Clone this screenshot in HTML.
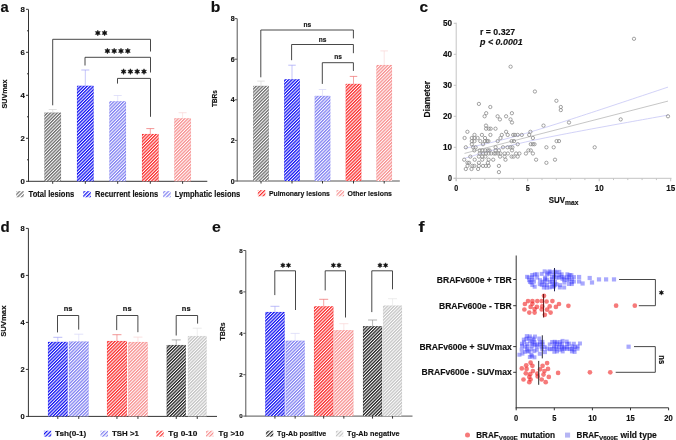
<!DOCTYPE html>
<html><head><meta charset="utf-8"><style>
html,body{margin:0;padding:0;background:#fff;overflow:hidden;width:676px;height:440px;}
svg{display:block;will-change:transform;}
</style></head><body>
<svg width="676" height="440" viewBox="0 0 676 440" font-family="Liberation Sans, sans-serif">
<defs>
<pattern id="hl_gray" patternUnits="userSpaceOnUse" width="2.7" height="10" patternTransform="rotate(45)"><rect x="0" y="0" width="2.7" height="10" fill="#fff"/><rect x="0" y="0" width="1.25" height="10" fill="#6e6e6e"/></pattern>
<pattern id="h_gray" patternUnits="userSpaceOnUse" width="2.3" height="10" patternTransform="rotate(45)"><rect x="0" y="0" width="2.3" height="10" fill="#fff"/><rect x="0" y="0" width="1.3" height="10" fill="#6e6e6e"/></pattern>
<pattern id="hl_blue" patternUnits="userSpaceOnUse" width="2.7" height="10" patternTransform="rotate(45)"><rect x="0" y="0" width="2.7" height="10" fill="#fff"/><rect x="0" y="0" width="1.25" height="10" fill="#1010f2"/></pattern>
<pattern id="h_blue" patternUnits="userSpaceOnUse" width="2.3" height="10" patternTransform="rotate(45)"><rect x="0" y="0" width="2.3" height="10" fill="#fff"/><rect x="0" y="0" width="1.3" height="10" fill="#1010f2"/></pattern>
<pattern id="hl_lav" patternUnits="userSpaceOnUse" width="2.7" height="10" patternTransform="rotate(45)"><rect x="0" y="0" width="2.7" height="10" fill="#fff"/><rect x="0" y="0" width="1.25" height="10" fill="#8080f2"/></pattern>
<pattern id="h_lav" patternUnits="userSpaceOnUse" width="2.3" height="10" patternTransform="rotate(45)"><rect x="0" y="0" width="2.3" height="10" fill="#fff"/><rect x="0" y="0" width="1.3" height="10" fill="#8080f2"/></pattern>
<pattern id="hl_red" patternUnits="userSpaceOnUse" width="2.7" height="10" patternTransform="rotate(45)"><rect x="0" y="0" width="2.7" height="10" fill="#fff"/><rect x="0" y="0" width="1.25" height="10" fill="#fa2c2c"/></pattern>
<pattern id="h_red" patternUnits="userSpaceOnUse" width="2.3" height="10" patternTransform="rotate(45)"><rect x="0" y="0" width="2.3" height="10" fill="#fff"/><rect x="0" y="0" width="1.3" height="10" fill="#fa2c2c"/></pattern>
<pattern id="hl_pink" patternUnits="userSpaceOnUse" width="2.7" height="10" patternTransform="rotate(45)"><rect x="0" y="0" width="2.7" height="10" fill="#fff"/><rect x="0" y="0" width="1.25" height="10" fill="#f79090"/></pattern>
<pattern id="h_pink" patternUnits="userSpaceOnUse" width="2.3" height="10" patternTransform="rotate(45)"><rect x="0" y="0" width="2.3" height="10" fill="#fff"/><rect x="0" y="0" width="1.3" height="10" fill="#f79090"/></pattern>
<pattern id="hl_dark" patternUnits="userSpaceOnUse" width="2.7" height="10" patternTransform="rotate(45)"><rect x="0" y="0" width="2.7" height="10" fill="#fff"/><rect x="0" y="0" width="1.25" height="10" fill="#222222"/></pattern>
<pattern id="h_dark" patternUnits="userSpaceOnUse" width="2.3" height="10" patternTransform="rotate(45)"><rect x="0" y="0" width="2.3" height="10" fill="#fff"/><rect x="0" y="0" width="1.3" height="10" fill="#222222"/></pattern>
<pattern id="hl_lgray" patternUnits="userSpaceOnUse" width="2.7" height="10" patternTransform="rotate(45)"><rect x="0" y="0" width="2.7" height="10" fill="#fff"/><rect x="0" y="0" width="1.25" height="10" fill="#c4c4c4"/></pattern>
<pattern id="h_lgray" patternUnits="userSpaceOnUse" width="2.3" height="10" patternTransform="rotate(45)"><rect x="0" y="0" width="2.3" height="10" fill="#fff"/><rect x="0" y="0" width="1.3" height="10" fill="#c4c4c4"/></pattern>
</defs>
<rect width="676" height="440" fill="#fff"/>
<text x="0.5" y="11.8" font-size="15" font-weight="bold" font-style="normal" text-anchor="start" fill="#111" stroke="#111" stroke-width="0.15" textLength="8.2" lengthAdjust="spacingAndGlyphs" >a</text>
<text x="210.8" y="11.8" font-size="15" font-weight="bold" font-style="normal" text-anchor="start" fill="#111" stroke="#111" stroke-width="0.15" textLength="9.6" lengthAdjust="spacingAndGlyphs" >b</text>
<text x="419.6" y="11.8" font-size="15" font-weight="bold" font-style="normal" text-anchor="start" fill="#111" stroke="#111" stroke-width="0.15" textLength="8.6" lengthAdjust="spacingAndGlyphs" >c</text>
<text x="0.5" y="232" font-size="15" font-weight="bold" font-style="normal" text-anchor="start" fill="#111" stroke="#111" stroke-width="0.15" textLength="9.2" lengthAdjust="spacingAndGlyphs" >d</text>
<text x="212" y="232" font-size="15" font-weight="bold" font-style="normal" text-anchor="start" fill="#111" stroke="#111" stroke-width="0.15" textLength="8.8" lengthAdjust="spacingAndGlyphs" >e</text>
<text x="418.6" y="231.5" font-size="15" font-weight="bold" font-style="normal" text-anchor="start" fill="#111" stroke="#111" stroke-width="0.15" textLength="6" lengthAdjust="spacingAndGlyphs" >f</text>
<line x1="28.5" y1="9.5" x2="28.5" y2="181.8" stroke="#333" stroke-width="1"/>
<line x1="26" y1="181.3" x2="28.5" y2="181.3" stroke="#333" stroke-width="1"/>
<text x="24.8" y="184.11" font-size="7.8" font-weight="bold" font-style="normal" text-anchor="end" fill="#111" stroke="#111" stroke-width="0.15" >0</text>
<line x1="26" y1="138.3" x2="28.5" y2="138.3" stroke="#333" stroke-width="1"/>
<text x="24.8" y="141.11" font-size="7.8" font-weight="bold" font-style="normal" text-anchor="end" fill="#111" stroke="#111" stroke-width="0.15" >2</text>
<line x1="26" y1="95.3" x2="28.5" y2="95.3" stroke="#333" stroke-width="1"/>
<text x="24.8" y="98.11" font-size="7.8" font-weight="bold" font-style="normal" text-anchor="end" fill="#111" stroke="#111" stroke-width="0.15" >4</text>
<line x1="26" y1="52.3" x2="28.5" y2="52.3" stroke="#333" stroke-width="1"/>
<text x="24.8" y="55.11" font-size="7.8" font-weight="bold" font-style="normal" text-anchor="end" fill="#111" stroke="#111" stroke-width="0.15" >6</text>
<line x1="26" y1="9.3" x2="28.5" y2="9.3" stroke="#333" stroke-width="1"/>
<text x="24.8" y="12.11" font-size="7.8" font-weight="bold" font-style="normal" text-anchor="end" fill="#111" stroke="#111" stroke-width="0.15" >8</text>
<line x1="27" y1="159.8" x2="28.5" y2="159.8" stroke="#333" stroke-width="1"/>
<line x1="27" y1="116.8" x2="28.5" y2="116.8" stroke="#333" stroke-width="1"/>
<line x1="27" y1="73.8" x2="28.5" y2="73.8" stroke="#333" stroke-width="1"/>
<line x1="27" y1="30.8" x2="28.5" y2="30.8" stroke="#333" stroke-width="1"/>
<line x1="28" y1="181.3" x2="207.3" y2="181.3" stroke="#333" stroke-width="1"/>
<line x1="52.7" y1="112.6" x2="52.7" y2="109.5" stroke="#d4d4d4" stroke-width="0.6"/>
<line x1="48.7" y1="109.5" x2="56.7" y2="109.5" stroke="#d4d4d4" stroke-width="0.7"/>
<rect x="44.4" y="112.6" width="16.6" height="68.7" fill="url(#h_gray)"/>
<path d="M44.7,181.3V112.9H60.7V181.3" stroke="#6e6e6e" stroke-width="0.5" stroke-opacity="0.45" fill="none"/>
<line x1="52.7" y1="181.3" x2="52.7" y2="183.8" stroke="#333" stroke-width="1"/>
<line x1="85.3" y1="85.8" x2="85.3" y2="70" stroke="#a0a0f6" stroke-width="0.6"/>
<line x1="81.3" y1="70" x2="89.3" y2="70" stroke="#a0a0f6" stroke-width="0.7"/>
<rect x="77" y="85.8" width="16.6" height="95.5" fill="url(#h_blue)"/>
<path d="M77.3,181.3V86.1H93.3V181.3" stroke="#1010f2" stroke-width="0.5" stroke-opacity="0.45" fill="none"/>
<line x1="85.3" y1="181.3" x2="85.3" y2="183.8" stroke="#333" stroke-width="1"/>
<line x1="117.7" y1="101.3" x2="117.7" y2="95.5" stroke="#d6d6f8" stroke-width="0.6"/>
<line x1="113.7" y1="95.5" x2="121.7" y2="95.5" stroke="#d6d6f8" stroke-width="0.7"/>
<rect x="109.4" y="101.3" width="16.6" height="80" fill="url(#h_lav)"/>
<path d="M109.7,181.3V101.6H125.7V181.3" stroke="#8080f2" stroke-width="0.5" stroke-opacity="0.45" fill="none"/>
<line x1="117.7" y1="181.3" x2="117.7" y2="183.8" stroke="#333" stroke-width="1"/>
<line x1="150.3" y1="134" x2="150.3" y2="128.6" stroke="#ee6a6a" stroke-width="0.6"/>
<line x1="146.3" y1="128.6" x2="154.3" y2="128.6" stroke="#ee6a6a" stroke-width="0.7"/>
<rect x="142" y="134" width="16.6" height="47.3" fill="url(#h_red)"/>
<path d="M142.3,181.3V134.3H158.3V181.3" stroke="#fa2c2c" stroke-width="0.5" stroke-opacity="0.45" fill="none"/>
<line x1="150.3" y1="181.3" x2="150.3" y2="183.8" stroke="#333" stroke-width="1"/>
<line x1="182.6" y1="118.3" x2="182.6" y2="112.7" stroke="#f9d4d4" stroke-width="0.6"/>
<line x1="178.6" y1="112.7" x2="186.6" y2="112.7" stroke="#f9d4d4" stroke-width="0.7"/>
<rect x="174.3" y="118.3" width="16.6" height="63" fill="url(#h_pink)"/>
<path d="M174.6,181.3V118.6H190.6V181.3" stroke="#f79090" stroke-width="0.5" stroke-opacity="0.45" fill="none"/>
<line x1="182.6" y1="181.3" x2="182.6" y2="183.8" stroke="#333" stroke-width="1"/>
<path d="M52.7,105.3 V39.3 H150.5 V51.5" stroke="#333" stroke-width="0.9" fill="none"/>
<path d="M85,65.5 V57.3 H150.5 V72.5" stroke="#333" stroke-width="0.9" fill="none"/>
<path d="M117.5,83.6 V78.4 H150.5 V116.8" stroke="#333" stroke-width="0.9" fill="none"/>
<polygon points="97.8,30.19 98.52,31.76 100.23,31.6 99.23,33 100.23,34.4 98.52,34.24 97.8,35.81 97.08,34.24 95.37,34.4 96.37,33 95.37,31.6 97.08,31.76" fill="#111" stroke="#111" stroke-width="0.52" stroke-linejoin="round"/>
<polygon points="104.6,30.19 105.31,31.76 107.03,31.6 106.03,33 107.03,34.4 105.31,34.24 104.6,35.81 103.88,34.24 102.17,34.4 103.17,33 102.17,31.6 103.88,31.76" fill="#111" stroke="#111" stroke-width="0.52" stroke-linejoin="round"/>
<polygon points="107.4,48.19 108.11,49.76 109.83,49.6 108.83,51 109.83,52.4 108.11,52.24 107.4,53.81 106.68,52.24 104.97,52.4 105.97,51 104.97,49.6 106.68,49.76" fill="#111" stroke="#111" stroke-width="0.52" stroke-linejoin="round"/>
<polygon points="114.2,48.19 114.91,49.76 116.63,49.6 115.63,51 116.63,52.4 114.91,52.24 114.2,53.81 113.48,52.24 111.77,52.4 112.77,51 111.77,49.6 113.48,49.76" fill="#111" stroke="#111" stroke-width="0.52" stroke-linejoin="round"/>
<polygon points="121,48.19 121.71,49.76 123.43,49.6 122.43,51 123.43,52.4 121.71,52.24 121,53.81 120.28,52.24 118.57,52.4 119.57,51 118.57,49.6 120.28,49.76" fill="#111" stroke="#111" stroke-width="0.52" stroke-linejoin="round"/>
<polygon points="127.8,48.19 128.51,49.76 130.23,49.6 129.23,51 130.23,52.4 128.51,52.24 127.8,53.81 127.08,52.24 125.37,52.4 126.37,51 125.37,49.6 127.08,49.76" fill="#111" stroke="#111" stroke-width="0.52" stroke-linejoin="round"/>
<polygon points="123.6,68.79 124.32,70.36 126.03,70.2 125.03,71.6 126.03,73 124.32,72.84 123.6,74.41 122.89,72.84 121.17,73 122.17,71.6 121.17,70.2 122.89,70.36" fill="#111" stroke="#111" stroke-width="0.52" stroke-linejoin="round"/>
<polygon points="130.4,68.79 131.12,70.36 132.83,70.2 131.83,71.6 132.83,73 131.12,72.84 130.4,74.41 129.69,72.84 127.97,73 128.97,71.6 127.97,70.2 129.69,70.36" fill="#111" stroke="#111" stroke-width="0.52" stroke-linejoin="round"/>
<polygon points="137.2,68.79 137.92,70.36 139.63,70.2 138.63,71.6 139.63,73 137.92,72.84 137.2,74.41 136.49,72.84 134.77,73 135.77,71.6 134.77,70.2 136.49,70.36" fill="#111" stroke="#111" stroke-width="0.52" stroke-linejoin="round"/>
<polygon points="144,68.79 144.72,70.36 146.43,70.2 145.43,71.6 146.43,73 144.72,72.84 144,74.41 143.28,72.84 141.57,73 142.57,71.6 141.57,70.2 143.28,70.36" fill="#111" stroke="#111" stroke-width="0.52" stroke-linejoin="round"/>
<text x="7" y="94" font-size="7.5" font-weight="bold" font-style="normal" text-anchor="middle" fill="#111" stroke="#111" stroke-width="0.15" textLength="29" lengthAdjust="spacingAndGlyphs" transform="rotate(-90 7 94)">SUVmax</text>
<line x1="237.2" y1="18.7" x2="237.2" y2="181.5" stroke="#555" stroke-width="1"/>
<line x1="234.7" y1="181" x2="237.2" y2="181" stroke="#555" stroke-width="1"/>
<text x="234.6" y="183.52" font-size="7" font-weight="bold" font-style="normal" text-anchor="end" fill="#111" stroke="#111" stroke-width="0.15" >0</text>
<line x1="234.7" y1="140.4" x2="237.2" y2="140.4" stroke="#555" stroke-width="1"/>
<text x="234.6" y="142.92" font-size="7" font-weight="bold" font-style="normal" text-anchor="end" fill="#111" stroke="#111" stroke-width="0.15" >2</text>
<line x1="234.7" y1="99.8" x2="237.2" y2="99.8" stroke="#555" stroke-width="1"/>
<text x="234.6" y="102.32" font-size="7" font-weight="bold" font-style="normal" text-anchor="end" fill="#111" stroke="#111" stroke-width="0.15" >4</text>
<line x1="234.7" y1="59.2" x2="237.2" y2="59.2" stroke="#555" stroke-width="1"/>
<text x="234.6" y="61.72" font-size="7" font-weight="bold" font-style="normal" text-anchor="end" fill="#111" stroke="#111" stroke-width="0.15" >6</text>
<line x1="234.7" y1="18.6" x2="237.2" y2="18.6" stroke="#555" stroke-width="1"/>
<text x="234.6" y="21.12" font-size="7" font-weight="bold" font-style="normal" text-anchor="end" fill="#111" stroke="#111" stroke-width="0.15" >8</text>
<line x1="237.2" y1="181" x2="399.8" y2="181" stroke="#555" stroke-width="1"/>
<line x1="261" y1="85.9" x2="261" y2="81.1" stroke="#d4d4d4" stroke-width="0.6"/>
<line x1="257.25" y1="81.1" x2="264.75" y2="81.1" stroke="#d4d4d4" stroke-width="0.7"/>
<rect x="253.2" y="85.9" width="15.6" height="95.1" fill="url(#h_gray)"/>
<path d="M253.5,181V86.2H268.5V181" stroke="#6e6e6e" stroke-width="0.5" stroke-opacity="0.45" fill="none"/>
<line x1="261" y1="181" x2="261" y2="183.5" stroke="#333" stroke-width="1"/>
<line x1="292" y1="79.3" x2="292" y2="65.2" stroke="#a0a0f6" stroke-width="0.6"/>
<line x1="288.25" y1="65.2" x2="295.75" y2="65.2" stroke="#a0a0f6" stroke-width="0.7"/>
<rect x="284.2" y="79.3" width="15.6" height="101.7" fill="url(#h_blue)"/>
<path d="M284.5,181V79.6H299.5V181" stroke="#1010f2" stroke-width="0.5" stroke-opacity="0.45" fill="none"/>
<line x1="292" y1="181" x2="292" y2="183.5" stroke="#333" stroke-width="1"/>
<line x1="322.5" y1="95.9" x2="322.5" y2="89.5" stroke="#d6d6f8" stroke-width="0.6"/>
<line x1="318.75" y1="89.5" x2="326.25" y2="89.5" stroke="#d6d6f8" stroke-width="0.7"/>
<rect x="314.7" y="95.9" width="15.6" height="85.1" fill="url(#h_lav)"/>
<path d="M315,181V96.2H330V181" stroke="#8080f2" stroke-width="0.5" stroke-opacity="0.45" fill="none"/>
<line x1="322.5" y1="181" x2="322.5" y2="183.5" stroke="#333" stroke-width="1"/>
<line x1="353.5" y1="83.9" x2="353.5" y2="76.4" stroke="#ee6a6a" stroke-width="0.6"/>
<line x1="349.75" y1="76.4" x2="357.25" y2="76.4" stroke="#ee6a6a" stroke-width="0.7"/>
<rect x="345.7" y="83.9" width="15.6" height="97.1" fill="url(#h_red)"/>
<path d="M346,181V84.2H361V181" stroke="#fa2c2c" stroke-width="0.5" stroke-opacity="0.45" fill="none"/>
<line x1="353.5" y1="181" x2="353.5" y2="183.5" stroke="#333" stroke-width="1"/>
<line x1="384.2" y1="65" x2="384.2" y2="50.9" stroke="#f9d4d4" stroke-width="0.6"/>
<line x1="380.45" y1="50.9" x2="387.95" y2="50.9" stroke="#f9d4d4" stroke-width="0.7"/>
<rect x="376.4" y="65" width="15.6" height="116" fill="url(#h_pink)"/>
<path d="M376.7,181V65.3H391.7V181" stroke="#f79090" stroke-width="0.5" stroke-opacity="0.45" fill="none"/>
<line x1="384.2" y1="181" x2="384.2" y2="183.5" stroke="#333" stroke-width="1"/>
<path d="M260.8,77.3 V30 H353.4 V38.4" stroke="#333" stroke-width="0.9" fill="none"/>
<path d="M291.6,60.2 V44.5 H353.4 V53.2" stroke="#333" stroke-width="0.9" fill="none"/>
<path d="M322.3,83.9 V62.7 H353.4 V70.9" stroke="#333" stroke-width="0.9" fill="none"/>
<text x="307.3" y="27.4" font-size="7.3" font-weight="bold" font-style="normal" text-anchor="middle" fill="#111" stroke="#111" stroke-width="0.15" textLength="7.7" lengthAdjust="spacingAndGlyphs" >ns</text>
<text x="322.5" y="41.5" font-size="7.3" font-weight="bold" font-style="normal" text-anchor="middle" fill="#111" stroke="#111" stroke-width="0.15" textLength="7.7" lengthAdjust="spacingAndGlyphs" >ns</text>
<text x="338" y="59.2" font-size="7.3" font-weight="bold" font-style="normal" text-anchor="middle" fill="#111" stroke="#111" stroke-width="0.15" textLength="7.7" lengthAdjust="spacingAndGlyphs" >ns</text>
<text x="217.2" y="98.6" font-size="6.5" font-weight="bold" font-style="normal" text-anchor="middle" fill="#111" stroke="#111" stroke-width="0.15" textLength="17" lengthAdjust="spacingAndGlyphs" transform="rotate(-90 217.2 98.6)">TBRs</text>
<rect x="16.2" y="191.1" width="7.6" height="6.2" fill="url(#hl_gray)"/>
<text x="28.6" y="197.1" font-size="8.2" font-weight="bold" font-style="normal" text-anchor="start" fill="#111" stroke="#111" stroke-width="0.15" textLength="45.7" lengthAdjust="spacingAndGlyphs" >Total lesions</text>
<rect x="83.2" y="191.1" width="7.6" height="6.2" fill="url(#hl_blue)"/>
<text x="95.1" y="197.1" font-size="8.2" font-weight="bold" font-style="normal" text-anchor="start" fill="#111" stroke="#111" stroke-width="0.15" textLength="63" lengthAdjust="spacingAndGlyphs" >Recurrent lesions</text>
<rect x="163.1" y="191.1" width="7.6" height="6.2" fill="url(#hl_lav)"/>
<text x="174.8" y="197.1" font-size="8.2" font-weight="bold" font-style="normal" text-anchor="start" fill="#111" stroke="#111" stroke-width="0.15" textLength="65.5" lengthAdjust="spacingAndGlyphs" >Lymphatic lesions</text>
<rect x="257.8" y="190.1" width="7.6" height="6.2" fill="url(#hl_red)"/>
<text x="268.9" y="195.7" font-size="8.1" font-weight="bold" font-style="normal" text-anchor="start" fill="#111" stroke="#111" stroke-width="0.15" textLength="61" lengthAdjust="spacingAndGlyphs" >Pulmonary lesions</text>
<rect x="336.5" y="190.1" width="7.6" height="6.2" fill="url(#hl_pink)"/>
<text x="347.6" y="195.7" font-size="8.1" font-weight="bold" font-style="normal" text-anchor="start" fill="#111" stroke="#111" stroke-width="0.15" textLength="44.4" lengthAdjust="spacingAndGlyphs" >Other lesions</text>
<line x1="28.4" y1="228.4" x2="28.4" y2="416.9" stroke="#333" stroke-width="1"/>
<line x1="25.9" y1="416.4" x2="28.4" y2="416.4" stroke="#333" stroke-width="1"/>
<text x="24.6" y="419.1" font-size="7.5" font-weight="bold" font-style="normal" text-anchor="end" fill="#111" stroke="#111" stroke-width="0.15" >0</text>
<line x1="25.9" y1="369.4" x2="28.4" y2="369.4" stroke="#333" stroke-width="1"/>
<text x="24.6" y="372.1" font-size="7.5" font-weight="bold" font-style="normal" text-anchor="end" fill="#111" stroke="#111" stroke-width="0.15" >2</text>
<line x1="25.9" y1="322.4" x2="28.4" y2="322.4" stroke="#333" stroke-width="1"/>
<text x="24.6" y="325.1" font-size="7.5" font-weight="bold" font-style="normal" text-anchor="end" fill="#111" stroke="#111" stroke-width="0.15" >4</text>
<line x1="25.9" y1="275.4" x2="28.4" y2="275.4" stroke="#333" stroke-width="1"/>
<text x="24.6" y="278.1" font-size="7.5" font-weight="bold" font-style="normal" text-anchor="end" fill="#111" stroke="#111" stroke-width="0.15" >6</text>
<line x1="25.9" y1="228.4" x2="28.4" y2="228.4" stroke="#333" stroke-width="1"/>
<text x="24.6" y="231.1" font-size="7.5" font-weight="bold" font-style="normal" text-anchor="end" fill="#111" stroke="#111" stroke-width="0.15" >8</text>
<line x1="28" y1="416.4" x2="217" y2="416.4" stroke="#333" stroke-width="1"/>
<line x1="57.8" y1="341.9" x2="57.8" y2="337.3" stroke="#a0a0f6" stroke-width="0.6"/>
<line x1="53.3" y1="337.3" x2="62.3" y2="337.3" stroke="#a0a0f6" stroke-width="0.7"/>
<rect x="48" y="341.9" width="19.6" height="74.5" fill="url(#h_blue)"/>
<path d="M48.3,416.4V342.2H67.3V416.4" stroke="#1010f2" stroke-width="0.5" stroke-opacity="0.45" fill="none"/>
<line x1="57.8" y1="416.4" x2="57.8" y2="418.9" stroke="#333" stroke-width="1"/>
<line x1="78.75" y1="341.5" x2="78.75" y2="334.2" stroke="#d6d6f8" stroke-width="0.6"/>
<line x1="74.25" y1="334.2" x2="83.25" y2="334.2" stroke="#d6d6f8" stroke-width="0.7"/>
<rect x="68.9" y="341.5" width="19.7" height="74.9" fill="url(#h_lav)"/>
<path d="M69.2,416.4V341.8H88.3V416.4" stroke="#8080f2" stroke-width="0.5" stroke-opacity="0.45" fill="none"/>
<line x1="78.75" y1="416.4" x2="78.75" y2="418.9" stroke="#333" stroke-width="1"/>
<line x1="116.95" y1="341" x2="116.95" y2="334.7" stroke="#ee6a6a" stroke-width="0.6"/>
<line x1="112.45" y1="334.7" x2="121.45" y2="334.7" stroke="#ee6a6a" stroke-width="0.7"/>
<rect x="107" y="341" width="19.9" height="75.4" fill="url(#h_red)"/>
<path d="M107.3,416.4V341.3H126.6V416.4" stroke="#fa2c2c" stroke-width="0.5" stroke-opacity="0.45" fill="none"/>
<line x1="116.95" y1="416.4" x2="116.95" y2="418.9" stroke="#333" stroke-width="1"/>
<line x1="137.95" y1="342" x2="137.95" y2="337.1" stroke="#f9d4d4" stroke-width="0.6"/>
<line x1="133.45" y1="337.1" x2="142.45" y2="337.1" stroke="#f9d4d4" stroke-width="0.7"/>
<rect x="128.2" y="342" width="19.5" height="74.4" fill="url(#h_pink)"/>
<path d="M128.5,416.4V342.3H147.4V416.4" stroke="#f79090" stroke-width="0.5" stroke-opacity="0.45" fill="none"/>
<line x1="137.95" y1="416.4" x2="137.95" y2="418.9" stroke="#333" stroke-width="1"/>
<line x1="176.25" y1="345.1" x2="176.25" y2="339.9" stroke="#909090" stroke-width="0.6"/>
<line x1="171.75" y1="339.9" x2="180.75" y2="339.9" stroke="#909090" stroke-width="0.7"/>
<rect x="166.7" y="345.1" width="19.1" height="71.3" fill="url(#h_dark)"/>
<path d="M167,416.4V345.4H185.5V416.4" stroke="#222222" stroke-width="0.5" stroke-opacity="0.45" fill="none"/>
<line x1="176.25" y1="416.4" x2="176.25" y2="418.9" stroke="#333" stroke-width="1"/>
<line x1="197.25" y1="336.1" x2="197.25" y2="328.2" stroke="#e4e4e4" stroke-width="0.6"/>
<line x1="192.75" y1="328.2" x2="201.75" y2="328.2" stroke="#e4e4e4" stroke-width="0.7"/>
<rect x="187.9" y="336.1" width="18.7" height="80.3" fill="url(#h_lgray)"/>
<path d="M188.2,416.4V336.4H206.3V416.4" stroke="#c4c4c4" stroke-width="0.5" stroke-opacity="0.45" fill="none"/>
<line x1="197.25" y1="416.4" x2="197.25" y2="418.9" stroke="#333" stroke-width="1"/>
<path d="M57.5,332.4 V315.5 H78.7 V329.6" stroke="#333" stroke-width="0.9" fill="none"/>
<path d="M116.7,330.1 V315.5 H137.9 V332.2" stroke="#333" stroke-width="0.9" fill="none"/>
<path d="M176.2,335.5 V315.5 H197.6 V323.6" stroke="#333" stroke-width="0.9" fill="none"/>
<text x="68" y="311.3" font-size="8" font-weight="bold" font-style="normal" text-anchor="middle" fill="#111" stroke="#111" stroke-width="0.15" textLength="8.7" lengthAdjust="spacingAndGlyphs" >ns</text>
<text x="127.2" y="310.8" font-size="8" font-weight="bold" font-style="normal" text-anchor="middle" fill="#111" stroke="#111" stroke-width="0.15" textLength="8.7" lengthAdjust="spacingAndGlyphs" >ns</text>
<text x="186.2" y="310.8" font-size="8" font-weight="bold" font-style="normal" text-anchor="middle" fill="#111" stroke="#111" stroke-width="0.15" textLength="8.7" lengthAdjust="spacingAndGlyphs" >ns</text>
<text x="6.6" y="321.4" font-size="7.8" font-weight="bold" font-style="normal" text-anchor="middle" fill="#111" stroke="#111" stroke-width="0.15" textLength="31.3" lengthAdjust="spacingAndGlyphs" transform="rotate(-90 6.4 321.4)">SUVmax</text>
<line x1="245.8" y1="250.5" x2="245.8" y2="416.6" stroke="#555" stroke-width="1"/>
<line x1="243.3" y1="416.1" x2="245.8" y2="416.1" stroke="#555" stroke-width="1"/>
<text x="242.8" y="418.33" font-size="6.2" font-weight="bold" font-style="normal" text-anchor="end" fill="#111" stroke="#111" stroke-width="0.15" >0</text>
<line x1="243.3" y1="374.7" x2="245.8" y2="374.7" stroke="#555" stroke-width="1"/>
<text x="242.8" y="376.93" font-size="6.2" font-weight="bold" font-style="normal" text-anchor="end" fill="#111" stroke="#111" stroke-width="0.15" >2</text>
<line x1="243.3" y1="333.3" x2="245.8" y2="333.3" stroke="#555" stroke-width="1"/>
<text x="242.8" y="335.53" font-size="6.2" font-weight="bold" font-style="normal" text-anchor="end" fill="#111" stroke="#111" stroke-width="0.15" >4</text>
<line x1="243.3" y1="291.9" x2="245.8" y2="291.9" stroke="#555" stroke-width="1"/>
<text x="242.8" y="294.13" font-size="6.2" font-weight="bold" font-style="normal" text-anchor="end" fill="#111" stroke="#111" stroke-width="0.15" >6</text>
<line x1="243.3" y1="250.5" x2="245.8" y2="250.5" stroke="#555" stroke-width="1"/>
<text x="242.8" y="252.73" font-size="6.2" font-weight="bold" font-style="normal" text-anchor="end" fill="#111" stroke="#111" stroke-width="0.15" >8</text>
<line x1="245.8" y1="416.1" x2="412.5" y2="416.1" stroke="#555" stroke-width="1"/>
<line x1="274.95" y1="312" x2="274.95" y2="306.3" stroke="#a0a0f6" stroke-width="0.6"/>
<line x1="270.45" y1="306.3" x2="279.45" y2="306.3" stroke="#a0a0f6" stroke-width="0.7"/>
<rect x="265.3" y="312" width="19.3" height="104.1" fill="url(#h_blue)"/>
<path d="M265.6,416.1V312.3H284.3V416.1" stroke="#1010f2" stroke-width="0.5" stroke-opacity="0.45" fill="none"/>
<line x1="274.95" y1="416.1" x2="274.95" y2="418.6" stroke="#333" stroke-width="1"/>
<line x1="295.15" y1="340.7" x2="295.15" y2="333.4" stroke="#d6d6f8" stroke-width="0.6"/>
<line x1="290.65" y1="333.4" x2="299.65" y2="333.4" stroke="#d6d6f8" stroke-width="0.7"/>
<rect x="285.6" y="340.7" width="19.1" height="75.4" fill="url(#h_lav)"/>
<path d="M285.9,416.1V341H304.4V416.1" stroke="#8080f2" stroke-width="0.5" stroke-opacity="0.45" fill="none"/>
<line x1="295.15" y1="416.1" x2="295.15" y2="418.6" stroke="#333" stroke-width="1"/>
<line x1="323.7" y1="306.3" x2="323.7" y2="299.3" stroke="#ee6a6a" stroke-width="0.6"/>
<line x1="319.2" y1="299.3" x2="328.2" y2="299.3" stroke="#ee6a6a" stroke-width="0.7"/>
<rect x="314" y="306.3" width="19.4" height="109.8" fill="url(#h_red)"/>
<path d="M314.3,416.1V306.6H333.1V416.1" stroke="#fa2c2c" stroke-width="0.5" stroke-opacity="0.45" fill="none"/>
<line x1="323.7" y1="416.1" x2="323.7" y2="418.6" stroke="#333" stroke-width="1"/>
<line x1="343.85" y1="330.2" x2="343.85" y2="323.7" stroke="#f9d4d4" stroke-width="0.6"/>
<line x1="339.35" y1="323.7" x2="348.35" y2="323.7" stroke="#f9d4d4" stroke-width="0.7"/>
<rect x="334.3" y="330.2" width="19.1" height="85.9" fill="url(#h_pink)"/>
<path d="M334.6,416.1V330.5H353.1V416.1" stroke="#f79090" stroke-width="0.5" stroke-opacity="0.45" fill="none"/>
<line x1="343.85" y1="416.1" x2="343.85" y2="418.6" stroke="#333" stroke-width="1"/>
<line x1="372.55" y1="326.2" x2="372.55" y2="320" stroke="#909090" stroke-width="0.6"/>
<line x1="368.05" y1="320" x2="377.05" y2="320" stroke="#909090" stroke-width="0.7"/>
<rect x="363" y="326.2" width="19.1" height="89.9" fill="url(#h_dark)"/>
<path d="M363.3,416.1V326.5H381.8V416.1" stroke="#222222" stroke-width="0.5" stroke-opacity="0.45" fill="none"/>
<line x1="372.55" y1="416.1" x2="372.55" y2="418.6" stroke="#333" stroke-width="1"/>
<line x1="392.55" y1="305.6" x2="392.55" y2="298.7" stroke="#e4e4e4" stroke-width="0.6"/>
<line x1="388.05" y1="298.7" x2="397.05" y2="298.7" stroke="#e4e4e4" stroke-width="0.7"/>
<rect x="383.1" y="305.6" width="18.9" height="110.5" fill="url(#h_lgray)"/>
<path d="M383.4,416.1V305.9H401.7V416.1" stroke="#c4c4c4" stroke-width="0.5" stroke-opacity="0.45" fill="none"/>
<line x1="392.55" y1="416.1" x2="392.55" y2="418.6" stroke="#333" stroke-width="1"/>
<path d="M274.8,295.1 V270.8 H295.5 V310" stroke="#333" stroke-width="0.9" fill="none"/>
<path d="M325.2,290.4 V270.8 H345.5 V317.5" stroke="#333" stroke-width="0.9" fill="none"/>
<path d="M371.8,312.1 V270.8 H392.5 V289.3" stroke="#333" stroke-width="0.9" fill="none"/>
<polygon points="282.9,262.82 283.53,264.2 285.05,264.06 284.16,265.3 285.05,266.54 283.53,266.4 282.9,267.78 282.27,266.4 280.75,266.54 281.63,265.3 280.75,264.06 282.27,264.2" fill="#111" stroke="#111" stroke-width="0.49" stroke-linejoin="round"/>
<polygon points="288.5,262.82 289.13,264.2 290.65,264.06 289.76,265.3 290.65,266.54 289.13,266.4 288.5,267.78 287.87,266.4 286.35,266.54 287.24,265.3 286.35,264.06 287.87,264.2" fill="#111" stroke="#111" stroke-width="0.49" stroke-linejoin="round"/>
<polygon points="333.4,262.82 334.03,264.2 335.55,264.06 334.66,265.3 335.55,266.54 334.03,266.4 333.4,267.78 332.77,266.4 331.25,266.54 332.13,265.3 331.25,264.06 332.77,264.2" fill="#111" stroke="#111" stroke-width="0.49" stroke-linejoin="round"/>
<polygon points="339,262.82 339.63,264.2 341.15,264.06 340.26,265.3 341.15,266.54 339.63,266.4 339,267.78 338.37,266.4 336.85,266.54 337.74,265.3 336.85,264.06 338.37,264.2" fill="#111" stroke="#111" stroke-width="0.49" stroke-linejoin="round"/>
<polygon points="380,262.82 380.63,264.2 382.15,264.06 381.26,265.3 382.15,266.54 380.63,266.4 380,267.78 379.37,266.4 377.85,266.54 378.74,265.3 377.85,264.06 379.37,264.2" fill="#111" stroke="#111" stroke-width="0.49" stroke-linejoin="round"/>
<polygon points="385.6,262.82 386.23,264.2 387.75,264.06 386.87,265.3 387.75,266.54 386.23,266.4 385.6,267.78 384.97,266.4 383.45,266.54 384.34,265.3 383.45,264.06 384.97,264.2" fill="#111" stroke="#111" stroke-width="0.49" stroke-linejoin="round"/>
<text x="225" y="331.5" font-size="6.5" font-weight="bold" font-style="normal" text-anchor="middle" fill="#111" stroke="#111" stroke-width="0.15" textLength="18" lengthAdjust="spacingAndGlyphs" transform="rotate(-90 225 331.5)">TBRs</text>
<rect x="43.9" y="430.7" width="7.4" height="6" fill="url(#hl_blue)"/>
<text x="55" y="436.3" font-size="8" font-weight="bold" font-style="normal" text-anchor="start" fill="#111" stroke="#111" stroke-width="0.15" textLength="31.2" lengthAdjust="spacingAndGlyphs" >Tsh(0-1)</text>
<rect x="100.5" y="430.7" width="7.4" height="6" fill="url(#hl_lav)"/>
<text x="112" y="436.3" font-size="8" font-weight="bold" font-style="normal" text-anchor="start" fill="#111" stroke="#111" stroke-width="0.15" textLength="26.9" lengthAdjust="spacingAndGlyphs" >TSH &gt;1</text>
<rect x="156.3" y="430.7" width="7.4" height="6" fill="url(#hl_red)"/>
<text x="168.3" y="436.3" font-size="8" font-weight="bold" font-style="normal" text-anchor="start" fill="#111" stroke="#111" stroke-width="0.15" textLength="29" lengthAdjust="spacingAndGlyphs" >Tg 0-10</text>
<rect x="206" y="430.7" width="7.4" height="6" fill="url(#hl_pink)"/>
<text x="218.5" y="436.3" font-size="8" font-weight="bold" font-style="normal" text-anchor="start" fill="#111" stroke="#111" stroke-width="0.15" textLength="25.4" lengthAdjust="spacingAndGlyphs" >Tg &gt;10</text>
<rect x="265.9" y="430.7" width="7.4" height="6" fill="url(#hl_dark)"/>
<text x="277" y="436.3" font-size="8" font-weight="bold" font-style="normal" text-anchor="start" fill="#111" stroke="#111" stroke-width="0.15" textLength="49.3" lengthAdjust="spacingAndGlyphs" >Tg-Ab positive</text>
<rect x="335.9" y="430.7" width="7.4" height="6" fill="url(#hl_lgray)"/>
<text x="347" y="436.3" font-size="8" font-weight="bold" font-style="normal" text-anchor="start" fill="#111" stroke="#111" stroke-width="0.15" textLength="52.5" lengthAdjust="spacingAndGlyphs" >Tg-Ab negative</text>
<line x1="456.2" y1="22.7" x2="456.2" y2="181" stroke="#c4c4c4" stroke-width="1"/>
<line x1="453.5" y1="178.3" x2="671.5" y2="178.3" stroke="#c4c4c4" stroke-width="1"/>
<line x1="453.7" y1="178.3" x2="456.2" y2="178.3" stroke="#c4c4c4" stroke-width="1"/>
<text x="452" y="181.4" font-size="8.5" font-weight="bold" font-style="normal" text-anchor="end" fill="#111" stroke="#111" stroke-width="0.15" textLength="4" lengthAdjust="spacingAndGlyphs" >0</text>
<line x1="453.7" y1="147.3" x2="456.2" y2="147.3" stroke="#c4c4c4" stroke-width="1"/>
<text x="452" y="150.4" font-size="8.5" font-weight="bold" font-style="normal" text-anchor="end" fill="#111" stroke="#111" stroke-width="0.15" textLength="9.1" lengthAdjust="spacingAndGlyphs" >10</text>
<line x1="453.7" y1="116.3" x2="456.2" y2="116.3" stroke="#c4c4c4" stroke-width="1"/>
<text x="452" y="119.4" font-size="8.5" font-weight="bold" font-style="normal" text-anchor="end" fill="#111" stroke="#111" stroke-width="0.15" textLength="9.1" lengthAdjust="spacingAndGlyphs" >20</text>
<line x1="453.7" y1="85.3" x2="456.2" y2="85.3" stroke="#c4c4c4" stroke-width="1"/>
<text x="452" y="88.4" font-size="8.5" font-weight="bold" font-style="normal" text-anchor="end" fill="#111" stroke="#111" stroke-width="0.15" textLength="9.1" lengthAdjust="spacingAndGlyphs" >30</text>
<line x1="453.7" y1="54.3" x2="456.2" y2="54.3" stroke="#c4c4c4" stroke-width="1"/>
<text x="452" y="57.4" font-size="8.5" font-weight="bold" font-style="normal" text-anchor="end" fill="#111" stroke="#111" stroke-width="0.15" textLength="9.1" lengthAdjust="spacingAndGlyphs" >40</text>
<line x1="453.7" y1="23.3" x2="456.2" y2="23.3" stroke="#c4c4c4" stroke-width="1"/>
<text x="452" y="26.4" font-size="8.5" font-weight="bold" font-style="normal" text-anchor="end" fill="#111" stroke="#111" stroke-width="0.15" textLength="9.1" lengthAdjust="spacingAndGlyphs" >50</text>
<line x1="456.2" y1="178.3" x2="456.2" y2="181.3" stroke="#c4c4c4" stroke-width="1"/>
<line x1="470.5" y1="178.3" x2="470.5" y2="180.1" stroke="#c4c4c4" stroke-width="1"/>
<line x1="484.8" y1="178.3" x2="484.8" y2="180.1" stroke="#c4c4c4" stroke-width="1"/>
<line x1="499.1" y1="178.3" x2="499.1" y2="180.1" stroke="#c4c4c4" stroke-width="1"/>
<line x1="513.4" y1="178.3" x2="513.4" y2="180.1" stroke="#c4c4c4" stroke-width="1"/>
<line x1="527.7" y1="178.3" x2="527.7" y2="181.3" stroke="#c4c4c4" stroke-width="1"/>
<line x1="542" y1="178.3" x2="542" y2="180.1" stroke="#c4c4c4" stroke-width="1"/>
<line x1="556.3" y1="178.3" x2="556.3" y2="180.1" stroke="#c4c4c4" stroke-width="1"/>
<line x1="570.6" y1="178.3" x2="570.6" y2="180.1" stroke="#c4c4c4" stroke-width="1"/>
<line x1="584.9" y1="178.3" x2="584.9" y2="180.1" stroke="#c4c4c4" stroke-width="1"/>
<line x1="599.2" y1="178.3" x2="599.2" y2="181.3" stroke="#c4c4c4" stroke-width="1"/>
<line x1="613.5" y1="178.3" x2="613.5" y2="180.1" stroke="#c4c4c4" stroke-width="1"/>
<line x1="627.8" y1="178.3" x2="627.8" y2="180.1" stroke="#c4c4c4" stroke-width="1"/>
<line x1="642.1" y1="178.3" x2="642.1" y2="180.1" stroke="#c4c4c4" stroke-width="1"/>
<line x1="656.4" y1="178.3" x2="656.4" y2="180.1" stroke="#c4c4c4" stroke-width="1"/>
<line x1="670.7" y1="178.3" x2="670.7" y2="181.3" stroke="#c4c4c4" stroke-width="1"/>
<text x="456.2" y="190.8" font-size="8.5" font-weight="bold" font-style="normal" text-anchor="middle" fill="#111" stroke="#111" stroke-width="0.15" textLength="4" lengthAdjust="spacingAndGlyphs" >0</text>
<text x="527.7" y="190.8" font-size="8.5" font-weight="bold" font-style="normal" text-anchor="middle" fill="#111" stroke="#111" stroke-width="0.15" textLength="4" lengthAdjust="spacingAndGlyphs" >5</text>
<text x="599.2" y="190.8" font-size="8.5" font-weight="bold" font-style="normal" text-anchor="middle" fill="#111" stroke="#111" stroke-width="0.15" textLength="9" lengthAdjust="spacingAndGlyphs" >10</text>
<text x="670.7" y="190.8" font-size="8.5" font-weight="bold" font-style="normal" text-anchor="middle" fill="#111" stroke="#111" stroke-width="0.15" textLength="9" lengthAdjust="spacingAndGlyphs" >15</text>
<text x="480" y="35" font-size="9" font-weight="bold" font-style="normal" text-anchor="start" fill="#111" stroke="#111" stroke-width="0.15" textLength="35.2" lengthAdjust="spacingAndGlyphs" >r = 0.327</text>
<text x="480" y="45.2" font-size="9" font-weight="bold" font-style="italic" text-anchor="start" fill="#111" stroke="#111" stroke-width="0.15" textLength="42.7" lengthAdjust="spacingAndGlyphs" >p &lt; 0.0001</text>
<text x="430.5" y="99.2" font-size="9" font-weight="bold" font-style="normal" text-anchor="middle" fill="#111" stroke="#111" stroke-width="0.15" textLength="36.4" lengthAdjust="spacingAndGlyphs" transform="rotate(-90 430.5 99.2)">Diameter</text>
<text x="548.8" y="203.2" font-size="9" font-weight="bold" font-style="normal" text-anchor="start" fill="#111" stroke="#111" stroke-width="0.15" textLength="16.2" lengthAdjust="spacingAndGlyphs" >SUV</text>
<text x="565" y="205.2" font-size="6.5" font-weight="bold" font-style="normal" text-anchor="start" fill="#111" stroke="#111" stroke-width="0.15" textLength="13.4" lengthAdjust="spacingAndGlyphs" >max</text>
<polyline points="464.5,148.4 469.59,147.35 474.68,146.26 479.76,145.15 484.85,144.01 489.94,142.83 495.02,141.62 500.11,140.35 505.2,139.05 510.29,137.7 515.38,136.31 520.46,134.88 525.55,133.41 530.64,131.91 535.73,130.38 540.81,128.83 545.9,127.25 550.99,125.66 556.08,124.05 561.16,122.43 566.25,120.79 571.34,119.15 576.42,117.5 581.51,115.84 586.6,114.17 591.69,112.5 596.77,110.83 601.86,109.15 606.95,107.47 612.04,105.78 617.12,104.09 622.21,102.4 627.3,100.7 632.39,99.01 637.48,97.31 642.56,95.61 647.65,93.91 652.74,92.21 657.83,90.51 662.91,88.8 668,87.1" stroke="#b4b4f2" stroke-width="0.6" fill="none"/>
<polyline points="464.5,158.4 469.59,156.84 474.68,155.31 479.76,153.8 484.85,152.33 489.94,150.89 495.02,149.49 500.11,148.14 505.2,146.83 510.29,145.56 515.38,144.34 520.46,143.16 525.55,142.01 530.64,140.89 535.73,139.81 540.81,138.75 545.9,137.71 550.99,136.69 556.08,135.68 561.16,134.69 566.25,133.71 571.34,132.74 576.42,131.77 581.51,130.82 586.6,129.87 591.69,128.92 596.77,127.98 601.86,127.05 606.95,126.12 612.04,125.19 617.12,124.26 622.21,123.34 627.3,122.42 632.39,121.5 637.48,120.58 642.56,119.66 647.65,118.75 652.74,117.84 657.83,116.93 662.91,116.02 668,115.11" stroke="#b4b4f2" stroke-width="0.6" fill="none"/>
<line x1="464.5" y1="153.4" x2="668" y2="101.1" stroke="#a0a0a0" stroke-width="0.6"/>
<circle cx="634" cy="38.8" r="1.65" stroke="#8a8a8a" stroke-width="0.8" fill="none"/>
<circle cx="510.6" cy="66.7" r="1.65" stroke="#8a8a8a" stroke-width="0.8" fill="none"/>
<circle cx="534.9" cy="91.5" r="1.65" stroke="#8a8a8a" stroke-width="0.8" fill="none"/>
<circle cx="556.4" cy="100.8" r="1.65" stroke="#8a8a8a" stroke-width="0.8" fill="none"/>
<circle cx="560.8" cy="107" r="1.65" stroke="#8a8a8a" stroke-width="0.8" fill="none"/>
<circle cx="560.8" cy="110.1" r="1.65" stroke="#8a8a8a" stroke-width="0.8" fill="none"/>
<circle cx="569" cy="122.5" r="1.65" stroke="#8a8a8a" stroke-width="0.8" fill="none"/>
<circle cx="620.7" cy="119.4" r="1.65" stroke="#8a8a8a" stroke-width="0.8" fill="none"/>
<circle cx="668" cy="116.3" r="1.65" stroke="#8a8a8a" stroke-width="0.8" fill="none"/>
<circle cx="594.7" cy="147.3" r="1.65" stroke="#8a8a8a" stroke-width="0.8" fill="none"/>
<circle cx="478.9" cy="103.9" r="1.65" stroke="#8a8a8a" stroke-width="0.8" fill="none"/>
<circle cx="490.3" cy="107" r="1.65" stroke="#8a8a8a" stroke-width="0.8" fill="none"/>
<circle cx="486.2" cy="113.2" r="1.65" stroke="#8a8a8a" stroke-width="0.8" fill="none"/>
<circle cx="484.6" cy="116.3" r="1.65" stroke="#8a8a8a" stroke-width="0.8" fill="none"/>
<circle cx="511.9" cy="113.2" r="1.65" stroke="#8a8a8a" stroke-width="0.8" fill="none"/>
<circle cx="497.6" cy="116.3" r="1.65" stroke="#8a8a8a" stroke-width="0.8" fill="none"/>
<circle cx="506.1" cy="116.3" r="1.65" stroke="#8a8a8a" stroke-width="0.8" fill="none"/>
<circle cx="499.9" cy="119.4" r="1.65" stroke="#8a8a8a" stroke-width="0.8" fill="none"/>
<circle cx="510.5" cy="119.4" r="1.65" stroke="#8a8a8a" stroke-width="0.8" fill="none"/>
<circle cx="486" cy="125.6" r="1.65" stroke="#8a8a8a" stroke-width="0.8" fill="none"/>
<circle cx="486.1" cy="128.7" r="1.65" stroke="#8a8a8a" stroke-width="0.8" fill="none"/>
<circle cx="488.8" cy="128.7" r="1.65" stroke="#8a8a8a" stroke-width="0.8" fill="none"/>
<circle cx="490.7" cy="128.7" r="1.65" stroke="#8a8a8a" stroke-width="0.8" fill="none"/>
<circle cx="495.5" cy="128.7" r="1.65" stroke="#8a8a8a" stroke-width="0.8" fill="none"/>
<circle cx="467.4" cy="131.8" r="1.65" stroke="#8a8a8a" stroke-width="0.8" fill="none"/>
<circle cx="474.5" cy="134.9" r="1.65" stroke="#8a8a8a" stroke-width="0.8" fill="none"/>
<circle cx="481.9" cy="134.9" r="1.65" stroke="#8a8a8a" stroke-width="0.8" fill="none"/>
<circle cx="490.4" cy="134.9" r="1.65" stroke="#8a8a8a" stroke-width="0.8" fill="none"/>
<circle cx="464.6" cy="138" r="1.65" stroke="#8a8a8a" stroke-width="0.8" fill="none"/>
<circle cx="471.8" cy="138" r="1.65" stroke="#8a8a8a" stroke-width="0.8" fill="none"/>
<circle cx="474.5" cy="138" r="1.65" stroke="#8a8a8a" stroke-width="0.8" fill="none"/>
<circle cx="477.6" cy="138" r="1.65" stroke="#8a8a8a" stroke-width="0.8" fill="none"/>
<circle cx="485" cy="138" r="1.65" stroke="#8a8a8a" stroke-width="0.8" fill="none"/>
<circle cx="471.8" cy="141.1" r="1.65" stroke="#8a8a8a" stroke-width="0.8" fill="none"/>
<circle cx="474.5" cy="141.1" r="1.65" stroke="#8a8a8a" stroke-width="0.8" fill="none"/>
<circle cx="480.3" cy="141.1" r="1.65" stroke="#8a8a8a" stroke-width="0.8" fill="none"/>
<circle cx="485" cy="141.1" r="1.65" stroke="#8a8a8a" stroke-width="0.8" fill="none"/>
<circle cx="488.4" cy="141.1" r="1.65" stroke="#8a8a8a" stroke-width="0.8" fill="none"/>
<circle cx="471.8" cy="144.2" r="1.65" stroke="#8a8a8a" stroke-width="0.8" fill="none"/>
<circle cx="483" cy="144.2" r="1.65" stroke="#8a8a8a" stroke-width="0.8" fill="none"/>
<circle cx="487.1" cy="141.1" r="1.65" stroke="#8a8a8a" stroke-width="0.8" fill="none"/>
<circle cx="465.8" cy="147.3" r="1.65" stroke="#8a8a8a" stroke-width="0.8" fill="none"/>
<circle cx="473.2" cy="147.3" r="1.65" stroke="#8a8a8a" stroke-width="0.8" fill="none"/>
<circle cx="475.6" cy="147.3" r="1.65" stroke="#8a8a8a" stroke-width="0.8" fill="none"/>
<circle cx="474.4" cy="150.4" r="1.65" stroke="#8a8a8a" stroke-width="0.8" fill="none"/>
<circle cx="479.7" cy="150.4" r="1.65" stroke="#8a8a8a" stroke-width="0.8" fill="none"/>
<circle cx="482.2" cy="150.4" r="1.65" stroke="#8a8a8a" stroke-width="0.8" fill="none"/>
<circle cx="485.4" cy="150.4" r="1.65" stroke="#8a8a8a" stroke-width="0.8" fill="none"/>
<circle cx="487.9" cy="150.4" r="1.65" stroke="#8a8a8a" stroke-width="0.8" fill="none"/>
<circle cx="489.5" cy="150.4" r="1.65" stroke="#8a8a8a" stroke-width="0.8" fill="none"/>
<circle cx="479.7" cy="153.5" r="1.65" stroke="#8a8a8a" stroke-width="0.8" fill="none"/>
<circle cx="483" cy="153.5" r="1.65" stroke="#8a8a8a" stroke-width="0.8" fill="none"/>
<circle cx="485.9" cy="153.5" r="1.65" stroke="#8a8a8a" stroke-width="0.8" fill="none"/>
<circle cx="488.7" cy="153.5" r="1.65" stroke="#8a8a8a" stroke-width="0.8" fill="none"/>
<circle cx="491.2" cy="153.5" r="1.65" stroke="#8a8a8a" stroke-width="0.8" fill="none"/>
<circle cx="494" cy="153.5" r="1.65" stroke="#8a8a8a" stroke-width="0.8" fill="none"/>
<circle cx="470.3" cy="156.6" r="1.65" stroke="#8a8a8a" stroke-width="0.8" fill="none"/>
<circle cx="478.9" cy="156.6" r="1.65" stroke="#8a8a8a" stroke-width="0.8" fill="none"/>
<circle cx="482.2" cy="156.6" r="1.65" stroke="#8a8a8a" stroke-width="0.8" fill="none"/>
<circle cx="485.4" cy="156.6" r="1.65" stroke="#8a8a8a" stroke-width="0.8" fill="none"/>
<circle cx="464.2" cy="159.7" r="1.65" stroke="#8a8a8a" stroke-width="0.8" fill="none"/>
<circle cx="474.7" cy="159.7" r="1.65" stroke="#8a8a8a" stroke-width="0.8" fill="none"/>
<circle cx="482.2" cy="159.7" r="1.65" stroke="#8a8a8a" stroke-width="0.8" fill="none"/>
<circle cx="488.7" cy="159.7" r="1.65" stroke="#8a8a8a" stroke-width="0.8" fill="none"/>
<circle cx="493.2" cy="159.7" r="1.65" stroke="#8a8a8a" stroke-width="0.8" fill="none"/>
<circle cx="467.5" cy="162.8" r="1.65" stroke="#8a8a8a" stroke-width="0.8" fill="none"/>
<circle cx="469.1" cy="162.8" r="1.65" stroke="#8a8a8a" stroke-width="0.8" fill="none"/>
<circle cx="478.9" cy="162.8" r="1.65" stroke="#8a8a8a" stroke-width="0.8" fill="none"/>
<circle cx="487.9" cy="162.8" r="1.65" stroke="#8a8a8a" stroke-width="0.8" fill="none"/>
<circle cx="467.5" cy="165.9" r="1.65" stroke="#8a8a8a" stroke-width="0.8" fill="none"/>
<circle cx="472.4" cy="165.9" r="1.65" stroke="#8a8a8a" stroke-width="0.8" fill="none"/>
<circle cx="474.4" cy="165.9" r="1.65" stroke="#8a8a8a" stroke-width="0.8" fill="none"/>
<circle cx="478.9" cy="165.9" r="1.65" stroke="#8a8a8a" stroke-width="0.8" fill="none"/>
<circle cx="483" cy="165.9" r="1.65" stroke="#8a8a8a" stroke-width="0.8" fill="none"/>
<circle cx="485.9" cy="165.9" r="1.65" stroke="#8a8a8a" stroke-width="0.8" fill="none"/>
<circle cx="488.7" cy="165.9" r="1.65" stroke="#8a8a8a" stroke-width="0.8" fill="none"/>
<circle cx="465.8" cy="169" r="1.65" stroke="#8a8a8a" stroke-width="0.8" fill="none"/>
<circle cx="471.5" cy="169" r="1.65" stroke="#8a8a8a" stroke-width="0.8" fill="none"/>
<circle cx="478.1" cy="169" r="1.65" stroke="#8a8a8a" stroke-width="0.8" fill="none"/>
<circle cx="512" cy="122.5" r="1.65" stroke="#8a8a8a" stroke-width="0.8" fill="none"/>
<circle cx="506.1" cy="131.8" r="1.65" stroke="#8a8a8a" stroke-width="0.8" fill="none"/>
<circle cx="530.4" cy="131.8" r="1.65" stroke="#8a8a8a" stroke-width="0.8" fill="none"/>
<circle cx="501.8" cy="134.9" r="1.65" stroke="#8a8a8a" stroke-width="0.8" fill="none"/>
<circle cx="507.7" cy="134.9" r="1.65" stroke="#8a8a8a" stroke-width="0.8" fill="none"/>
<circle cx="513.2" cy="134.9" r="1.65" stroke="#8a8a8a" stroke-width="0.8" fill="none"/>
<circle cx="514.9" cy="134.9" r="1.65" stroke="#8a8a8a" stroke-width="0.8" fill="none"/>
<circle cx="517.7" cy="134.9" r="1.65" stroke="#8a8a8a" stroke-width="0.8" fill="none"/>
<circle cx="521.8" cy="134.9" r="1.65" stroke="#8a8a8a" stroke-width="0.8" fill="none"/>
<circle cx="529.2" cy="134.9" r="1.65" stroke="#8a8a8a" stroke-width="0.8" fill="none"/>
<circle cx="500.5" cy="138" r="1.65" stroke="#8a8a8a" stroke-width="0.8" fill="none"/>
<circle cx="532.9" cy="138" r="1.65" stroke="#8a8a8a" stroke-width="0.8" fill="none"/>
<circle cx="497.7" cy="141.1" r="1.65" stroke="#8a8a8a" stroke-width="0.8" fill="none"/>
<circle cx="511.6" cy="141.1" r="1.65" stroke="#8a8a8a" stroke-width="0.8" fill="none"/>
<circle cx="514" cy="141.1" r="1.65" stroke="#8a8a8a" stroke-width="0.8" fill="none"/>
<circle cx="517.7" cy="144.2" r="1.65" stroke="#8a8a8a" stroke-width="0.8" fill="none"/>
<circle cx="530.8" cy="144.2" r="1.65" stroke="#8a8a8a" stroke-width="0.8" fill="none"/>
<circle cx="532.9" cy="144.2" r="1.65" stroke="#8a8a8a" stroke-width="0.8" fill="none"/>
<circle cx="495.6" cy="147.3" r="1.65" stroke="#8a8a8a" stroke-width="0.8" fill="none"/>
<circle cx="503" cy="147.3" r="1.65" stroke="#8a8a8a" stroke-width="0.8" fill="none"/>
<circle cx="507.5" cy="147.3" r="1.65" stroke="#8a8a8a" stroke-width="0.8" fill="none"/>
<circle cx="510.4" cy="147.3" r="1.65" stroke="#8a8a8a" stroke-width="0.8" fill="none"/>
<circle cx="512.4" cy="147.3" r="1.65" stroke="#8a8a8a" stroke-width="0.8" fill="none"/>
<circle cx="495.6" cy="150.4" r="1.65" stroke="#8a8a8a" stroke-width="0.8" fill="none"/>
<circle cx="498.9" cy="150.4" r="1.65" stroke="#8a8a8a" stroke-width="0.8" fill="none"/>
<circle cx="512" cy="150.4" r="1.65" stroke="#8a8a8a" stroke-width="0.8" fill="none"/>
<circle cx="528.4" cy="150.4" r="1.65" stroke="#8a8a8a" stroke-width="0.8" fill="none"/>
<circle cx="530.8" cy="150.4" r="1.65" stroke="#8a8a8a" stroke-width="0.8" fill="none"/>
<circle cx="495.6" cy="153.5" r="1.65" stroke="#8a8a8a" stroke-width="0.8" fill="none"/>
<circle cx="498.1" cy="153.5" r="1.65" stroke="#8a8a8a" stroke-width="0.8" fill="none"/>
<circle cx="500.5" cy="153.5" r="1.65" stroke="#8a8a8a" stroke-width="0.8" fill="none"/>
<circle cx="504.6" cy="153.5" r="1.65" stroke="#8a8a8a" stroke-width="0.8" fill="none"/>
<circle cx="507.9" cy="153.5" r="1.65" stroke="#8a8a8a" stroke-width="0.8" fill="none"/>
<circle cx="516.1" cy="153.5" r="1.65" stroke="#8a8a8a" stroke-width="0.8" fill="none"/>
<circle cx="519.4" cy="153.5" r="1.65" stroke="#8a8a8a" stroke-width="0.8" fill="none"/>
<circle cx="525.9" cy="153.5" r="1.65" stroke="#8a8a8a" stroke-width="0.8" fill="none"/>
<circle cx="532.9" cy="153.5" r="1.65" stroke="#8a8a8a" stroke-width="0.8" fill="none"/>
<circle cx="500.1" cy="156.6" r="1.65" stroke="#8a8a8a" stroke-width="0.8" fill="none"/>
<circle cx="504.6" cy="156.6" r="1.65" stroke="#8a8a8a" stroke-width="0.8" fill="none"/>
<circle cx="511.6" cy="156.6" r="1.65" stroke="#8a8a8a" stroke-width="0.8" fill="none"/>
<circle cx="513.6" cy="156.6" r="1.65" stroke="#8a8a8a" stroke-width="0.8" fill="none"/>
<circle cx="517.7" cy="156.6" r="1.65" stroke="#8a8a8a" stroke-width="0.8" fill="none"/>
<circle cx="505.5" cy="159.7" r="1.65" stroke="#8a8a8a" stroke-width="0.8" fill="none"/>
<circle cx="498.9" cy="165.9" r="1.65" stroke="#8a8a8a" stroke-width="0.8" fill="none"/>
<circle cx="498.9" cy="172.1" r="1.65" stroke="#8a8a8a" stroke-width="0.8" fill="none"/>
<circle cx="543.5" cy="125.6" r="1.65" stroke="#8a8a8a" stroke-width="0.8" fill="none"/>
<circle cx="556.6" cy="141.1" r="1.65" stroke="#8a8a8a" stroke-width="0.8" fill="none"/>
<circle cx="559" cy="141.1" r="1.65" stroke="#8a8a8a" stroke-width="0.8" fill="none"/>
<circle cx="534.5" cy="144.2" r="1.65" stroke="#8a8a8a" stroke-width="0.8" fill="none"/>
<circle cx="546.4" cy="147.3" r="1.65" stroke="#8a8a8a" stroke-width="0.8" fill="none"/>
<circle cx="553.7" cy="147.3" r="1.65" stroke="#8a8a8a" stroke-width="0.8" fill="none"/>
<circle cx="536.1" cy="159.7" r="1.65" stroke="#8a8a8a" stroke-width="0.8" fill="none"/>
<circle cx="555" cy="159.7" r="1.65" stroke="#8a8a8a" stroke-width="0.8" fill="none"/>
<circle cx="546.4" cy="162.8" r="1.65" stroke="#8a8a8a" stroke-width="0.8" fill="none"/>
<line x1="516.2" y1="255.5" x2="516.2" y2="408.3" stroke="#333" stroke-width="1"/>
<line x1="515.7" y1="407.8" x2="668.6" y2="407.8" stroke="#333" stroke-width="1"/>
<line x1="516.2" y1="407.8" x2="516.2" y2="410.3" stroke="#333" stroke-width="1"/>
<text x="516.2" y="420.6" font-size="8.5" font-weight="bold" font-style="normal" text-anchor="middle" fill="#111" stroke="#111" stroke-width="0.15" textLength="4.2" lengthAdjust="spacingAndGlyphs" >0</text>
<line x1="554.3" y1="407.8" x2="554.3" y2="410.3" stroke="#333" stroke-width="1"/>
<text x="554.3" y="420.6" font-size="8.5" font-weight="bold" font-style="normal" text-anchor="middle" fill="#111" stroke="#111" stroke-width="0.15" textLength="4.2" lengthAdjust="spacingAndGlyphs" >5</text>
<line x1="592.4" y1="407.8" x2="592.4" y2="410.3" stroke="#333" stroke-width="1"/>
<text x="592.4" y="420.6" font-size="8.5" font-weight="bold" font-style="normal" text-anchor="middle" fill="#111" stroke="#111" stroke-width="0.15" textLength="8.5" lengthAdjust="spacingAndGlyphs" >10</text>
<line x1="630.5" y1="407.8" x2="630.5" y2="410.3" stroke="#333" stroke-width="1"/>
<text x="630.5" y="420.6" font-size="8.5" font-weight="bold" font-style="normal" text-anchor="middle" fill="#111" stroke="#111" stroke-width="0.15" textLength="8.5" lengthAdjust="spacingAndGlyphs" >15</text>
<line x1="668.6" y1="407.8" x2="668.6" y2="410.3" stroke="#333" stroke-width="1"/>
<text x="668.6" y="420.6" font-size="8.5" font-weight="bold" font-style="normal" text-anchor="middle" fill="#111" stroke="#111" stroke-width="0.15" textLength="8.5" lengthAdjust="spacingAndGlyphs" >20</text>
<line x1="513.2" y1="279.5" x2="516.2" y2="279.5" stroke="#333" stroke-width="1"/>
<text x="511.8" y="282.6" font-size="8.6" font-weight="bold" font-style="normal" text-anchor="end" fill="#111" stroke="#111" stroke-width="0.15" textLength="75" lengthAdjust="spacingAndGlyphs" >BRAFv600e + TBR</text>
<line x1="513.2" y1="305.7" x2="516.2" y2="305.7" stroke="#333" stroke-width="1"/>
<text x="511.8" y="308.8" font-size="8.6" font-weight="bold" font-style="normal" text-anchor="end" fill="#111" stroke="#111" stroke-width="0.15" textLength="72.8" lengthAdjust="spacingAndGlyphs" >BRAFv600e - TBR</text>
<line x1="513.2" y1="346.6" x2="516.2" y2="346.6" stroke="#333" stroke-width="1"/>
<text x="511.8" y="349.7" font-size="8.6" font-weight="bold" font-style="normal" text-anchor="end" fill="#111" stroke="#111" stroke-width="0.15" textLength="92.4" lengthAdjust="spacingAndGlyphs" >BRAFv600e + SUVmax</text>
<line x1="513.2" y1="372.3" x2="516.2" y2="372.3" stroke="#333" stroke-width="1"/>
<text x="511.8" y="375.4" font-size="8.6" font-weight="bold" font-style="normal" text-anchor="end" fill="#111" stroke="#111" stroke-width="0.15" textLength="90.2" lengthAdjust="spacingAndGlyphs" >BRAFv600e - SUVmax</text>
<rect x="525.06" y="274.82" width="4" height="4" fill="rgba(60,60,250,0.44)"/>
<rect x="526.82" y="275.47" width="4" height="4" fill="rgba(60,60,250,0.44)"/>
<rect x="527.13" y="278.19" width="4" height="4" fill="rgba(60,60,250,0.44)"/>
<rect x="527.97" y="279.97" width="4" height="4" fill="rgba(60,60,250,0.44)"/>
<rect x="530.19" y="273.02" width="4" height="4" fill="rgba(60,60,250,0.44)"/>
<rect x="530.34" y="275.24" width="4" height="4" fill="rgba(60,60,250,0.44)"/>
<rect x="530.36" y="277.63" width="4" height="4" fill="rgba(60,60,250,0.44)"/>
<rect x="529.34" y="280.51" width="4" height="4" fill="rgba(60,60,250,0.44)"/>
<rect x="530.31" y="283.03" width="4" height="4" fill="rgba(60,60,250,0.44)"/>
<rect x="532.92" y="272.42" width="4" height="4" fill="rgba(60,60,250,0.44)"/>
<rect x="531.99" y="279.6" width="4" height="4" fill="rgba(60,60,250,0.44)"/>
<rect x="532.68" y="284.72" width="4" height="4" fill="rgba(60,60,250,0.44)"/>
<rect x="534.84" y="272.29" width="4" height="4" fill="rgba(60,60,250,0.44)"/>
<rect x="535.12" y="275.57" width="4" height="4" fill="rgba(60,60,250,0.44)"/>
<rect x="538" y="278.15" width="4" height="4" fill="rgba(60,60,250,0.44)"/>
<rect x="537.8" y="282.1" width="4" height="4" fill="rgba(60,60,250,0.44)"/>
<rect x="539.7" y="271.89" width="4" height="4" fill="rgba(60,60,250,0.44)"/>
<rect x="540.42" y="279.87" width="4" height="4" fill="rgba(60,60,250,0.44)"/>
<rect x="539.71" y="282.88" width="4" height="4" fill="rgba(60,60,250,0.44)"/>
<rect x="542.66" y="269.36" width="4" height="4" fill="rgba(60,60,250,0.44)"/>
<rect x="543.03" y="275.67" width="4" height="4" fill="rgba(60,60,250,0.44)"/>
<rect x="543.2" y="277.23" width="4" height="4" fill="rgba(60,60,250,0.44)"/>
<rect x="542.64" y="279.34" width="4" height="4" fill="rgba(60,60,250,0.44)"/>
<rect x="542.37" y="282.65" width="4" height="4" fill="rgba(60,60,250,0.44)"/>
<rect x="541.86" y="285.51" width="4" height="4" fill="rgba(60,60,250,0.44)"/>
<rect x="545.64" y="270.56" width="4" height="4" fill="rgba(60,60,250,0.44)"/>
<rect x="544.94" y="272.53" width="4" height="4" fill="rgba(60,60,250,0.44)"/>
<rect x="545.08" y="277.67" width="4" height="4" fill="rgba(60,60,250,0.44)"/>
<rect x="544.9" y="282.81" width="4" height="4" fill="rgba(60,60,250,0.44)"/>
<rect x="544.72" y="285.67" width="4" height="4" fill="rgba(60,60,250,0.44)"/>
<rect x="547.57" y="269.32" width="4" height="4" fill="rgba(60,60,250,0.44)"/>
<rect x="547.61" y="271.83" width="4" height="4" fill="rgba(60,60,250,0.44)"/>
<rect x="547.68" y="279.95" width="4" height="4" fill="rgba(60,60,250,0.44)"/>
<rect x="547.79" y="285.33" width="4" height="4" fill="rgba(60,60,250,0.44)"/>
<rect x="549.38" y="270.25" width="4" height="4" fill="rgba(60,60,250,0.44)"/>
<rect x="549.94" y="275.13" width="4" height="4" fill="rgba(60,60,250,0.44)"/>
<rect x="549.81" y="277.24" width="4" height="4" fill="rgba(60,60,250,0.44)"/>
<rect x="550.13" y="279.72" width="4" height="4" fill="rgba(60,60,250,0.44)"/>
<rect x="550.38" y="281.84" width="4" height="4" fill="rgba(60,60,250,0.44)"/>
<rect x="550.33" y="284.73" width="4" height="4" fill="rgba(60,60,250,0.44)"/>
<rect x="552.93" y="269.63" width="4" height="4" fill="rgba(60,60,250,0.44)"/>
<rect x="552.41" y="272.78" width="4" height="4" fill="rgba(60,60,250,0.44)"/>
<rect x="552.25" y="274.77" width="4" height="4" fill="rgba(60,60,250,0.44)"/>
<rect x="553" y="279.54" width="4" height="4" fill="rgba(60,60,250,0.44)"/>
<rect x="552.71" y="283.04" width="4" height="4" fill="rgba(60,60,250,0.44)"/>
<rect x="552.12" y="284.47" width="4" height="4" fill="rgba(60,60,250,0.44)"/>
<rect x="554.57" y="270.43" width="4" height="4" fill="rgba(60,60,250,0.44)"/>
<rect x="554.69" y="275.43" width="4" height="4" fill="rgba(60,60,250,0.44)"/>
<rect x="554.48" y="282.21" width="4" height="4" fill="rgba(60,60,250,0.44)"/>
<rect x="557.28" y="269.88" width="4" height="4" fill="rgba(60,60,250,0.44)"/>
<rect x="557.37" y="273.09" width="4" height="4" fill="rgba(60,60,250,0.44)"/>
<rect x="556.81" y="275.62" width="4" height="4" fill="rgba(60,60,250,0.44)"/>
<rect x="558.13" y="283.1" width="4" height="4" fill="rgba(60,60,250,0.44)"/>
<rect x="557.84" y="285.47" width="4" height="4" fill="rgba(60,60,250,0.44)"/>
<rect x="559.7" y="272.28" width="4" height="4" fill="rgba(60,60,250,0.44)"/>
<rect x="559.4" y="275.12" width="4" height="4" fill="rgba(60,60,250,0.44)"/>
<rect x="560.43" y="276.86" width="4" height="4" fill="rgba(60,60,250,0.44)"/>
<rect x="561.82" y="275.34" width="4" height="4" fill="rgba(60,60,250,0.44)"/>
<rect x="562.22" y="277.73" width="4" height="4" fill="rgba(60,60,250,0.44)"/>
<rect x="562.38" y="280.61" width="4" height="4" fill="rgba(60,60,250,0.44)"/>
<rect x="562.15" y="285.51" width="4" height="4" fill="rgba(60,60,250,0.44)"/>
<rect x="565.4" y="272.29" width="4" height="4" fill="rgba(60,60,250,0.44)"/>
<rect x="565.05" y="275.44" width="4" height="4" fill="rgba(60,60,250,0.44)"/>
<rect x="565.41" y="278.09" width="4" height="4" fill="rgba(60,60,250,0.44)"/>
<rect x="567.68" y="273.01" width="4" height="4" fill="rgba(60,60,250,0.44)"/>
<rect x="567.18" y="274.68" width="4" height="4" fill="rgba(60,60,250,0.44)"/>
<rect x="567.39" y="277.46" width="4" height="4" fill="rgba(60,60,250,0.44)"/>
<rect x="566.88" y="281.98" width="4" height="4" fill="rgba(60,60,250,0.44)"/>
<rect x="569.4" y="273.16" width="4" height="4" fill="rgba(60,60,250,0.44)"/>
<rect x="570" y="277.24" width="4" height="4" fill="rgba(60,60,250,0.44)"/>
<rect x="569.79" y="280.21" width="4" height="4" fill="rgba(60,60,250,0.44)"/>
<rect x="569.81" y="282.07" width="4" height="4" fill="rgba(60,60,250,0.44)"/>
<rect x="571.97" y="275.08" width="4" height="4" fill="rgba(60,60,250,0.44)"/>
<rect x="571.91" y="279.55" width="4" height="4" fill="rgba(60,60,250,0.44)"/>
<rect x="577" y="274.9" width="4.2" height="4.2" fill="rgba(60,60,250,0.44)"/>
<rect x="577" y="279.4" width="4.2" height="4.2" fill="rgba(60,60,250,0.44)"/>
<rect x="580.5" y="281.4" width="4.2" height="4.2" fill="rgba(60,60,250,0.44)"/>
<rect x="587.6" y="275.9" width="4.2" height="4.2" fill="rgba(60,60,250,0.44)"/>
<rect x="589.9" y="280.4" width="4.2" height="4.2" fill="rgba(60,60,250,0.44)"/>
<rect x="596.9" y="277.3" width="4.2" height="4.2" fill="rgba(60,60,250,0.44)"/>
<rect x="604" y="277.3" width="4.2" height="4.2" fill="rgba(60,60,250,0.44)"/>
<rect x="611.9" y="277.3" width="4.2" height="4.2" fill="rgba(60,60,250,0.44)"/>
<rect x="517.45" y="352.72" width="4" height="4" fill="rgba(60,60,250,0.44)"/>
<rect x="519.96" y="341.75" width="4" height="4" fill="rgba(60,60,250,0.44)"/>
<rect x="520.1" y="343.92" width="4" height="4" fill="rgba(60,60,250,0.44)"/>
<rect x="519.69" y="347.68" width="4" height="4" fill="rgba(60,60,250,0.44)"/>
<rect x="520.42" y="351.59" width="4" height="4" fill="rgba(60,60,250,0.44)"/>
<rect x="521.8" y="337.62" width="4" height="4" fill="rgba(60,60,250,0.44)"/>
<rect x="522.1" y="340.28" width="4" height="4" fill="rgba(60,60,250,0.44)"/>
<rect x="523.15" y="344.65" width="4" height="4" fill="rgba(60,60,250,0.44)"/>
<rect x="523.12" y="349.87" width="4" height="4" fill="rgba(60,60,250,0.44)"/>
<rect x="524.81" y="334.13" width="4" height="4" fill="rgba(60,60,250,0.44)"/>
<rect x="524.39" y="336.82" width="4" height="4" fill="rgba(60,60,250,0.44)"/>
<rect x="525.25" y="341.87" width="4" height="4" fill="rgba(60,60,250,0.44)"/>
<rect x="525.45" y="344.57" width="4" height="4" fill="rgba(60,60,250,0.44)"/>
<rect x="524.97" y="347.39" width="4" height="4" fill="rgba(60,60,250,0.44)"/>
<rect x="525.67" y="348.93" width="4" height="4" fill="rgba(60,60,250,0.44)"/>
<rect x="527.9" y="334.41" width="4" height="4" fill="rgba(60,60,250,0.44)"/>
<rect x="526.81" y="336.47" width="4" height="4" fill="rgba(60,60,250,0.44)"/>
<rect x="528.14" y="339.18" width="4" height="4" fill="rgba(60,60,250,0.44)"/>
<rect x="527.3" y="349.63" width="4" height="4" fill="rgba(60,60,250,0.44)"/>
<rect x="527.85" y="355.02" width="4" height="4" fill="rgba(60,60,250,0.44)"/>
<rect x="530.62" y="336.53" width="4" height="4" fill="rgba(60,60,250,0.44)"/>
<rect x="530.16" y="340.19" width="4" height="4" fill="rgba(60,60,250,0.44)"/>
<rect x="530.59" y="342.16" width="4" height="4" fill="rgba(60,60,250,0.44)"/>
<rect x="529.74" y="344.15" width="4" height="4" fill="rgba(60,60,250,0.44)"/>
<rect x="529.51" y="347.36" width="4" height="4" fill="rgba(60,60,250,0.44)"/>
<rect x="529.37" y="352.78" width="4" height="4" fill="rgba(60,60,250,0.44)"/>
<rect x="529.87" y="354.23" width="4" height="4" fill="rgba(60,60,250,0.44)"/>
<rect x="532.96" y="334.54" width="4" height="4" fill="rgba(60,60,250,0.44)"/>
<rect x="531.88" y="337.68" width="4" height="4" fill="rgba(60,60,250,0.44)"/>
<rect x="532.49" y="340.07" width="4" height="4" fill="rgba(60,60,250,0.44)"/>
<rect x="532.82" y="342.73" width="4" height="4" fill="rgba(60,60,250,0.44)"/>
<rect x="532.41" y="349.11" width="4" height="4" fill="rgba(60,60,250,0.44)"/>
<rect x="532.43" y="355.3" width="4" height="4" fill="rgba(60,60,250,0.44)"/>
<rect x="534.98" y="342.42" width="4" height="4" fill="rgba(60,60,250,0.44)"/>
<rect x="534.71" y="344.47" width="4" height="4" fill="rgba(60,60,250,0.44)"/>
<rect x="534.83" y="347.78" width="4" height="4" fill="rgba(60,60,250,0.44)"/>
<rect x="537.27" y="336.52" width="4" height="4" fill="rgba(60,60,250,0.44)"/>
<rect x="537.89" y="340.11" width="4" height="4" fill="rgba(60,60,250,0.44)"/>
<rect x="537.9" y="342.48" width="4" height="4" fill="rgba(60,60,250,0.44)"/>
<rect x="537.79" y="351.79" width="4" height="4" fill="rgba(60,60,250,0.44)"/>
<rect x="540.38" y="339.87" width="4" height="4" fill="rgba(60,60,250,0.44)"/>
<rect x="540.62" y="342.31" width="4" height="4" fill="rgba(60,60,250,0.44)"/>
<rect x="539.32" y="344.67" width="4" height="4" fill="rgba(60,60,250,0.44)"/>
<rect x="540.24" y="347.05" width="4" height="4" fill="rgba(60,60,250,0.44)"/>
<rect x="542.7" y="344.93" width="4" height="4" fill="rgba(60,60,250,0.44)"/>
<rect x="542.98" y="350.12" width="4" height="4" fill="rgba(60,60,250,0.44)"/>
<rect x="545.04" y="346.63" width="4" height="4" fill="rgba(60,60,250,0.44)"/>
<rect x="547.77" y="342.41" width="4" height="4" fill="rgba(60,60,250,0.44)"/>
<rect x="547.89" y="347.21" width="4" height="4" fill="rgba(60,60,250,0.44)"/>
<rect x="550.17" y="339.98" width="4" height="4" fill="rgba(60,60,250,0.44)"/>
<rect x="549.52" y="347.02" width="4" height="4" fill="rgba(60,60,250,0.44)"/>
<rect x="552.76" y="339.78" width="4" height="4" fill="rgba(60,60,250,0.44)"/>
<rect x="552.46" y="341.72" width="4" height="4" fill="rgba(60,60,250,0.44)"/>
<rect x="551.99" y="344.34" width="4" height="4" fill="rgba(60,60,250,0.44)"/>
<rect x="552.07" y="346.45" width="4" height="4" fill="rgba(60,60,250,0.44)"/>
<rect x="552.33" y="349.76" width="4" height="4" fill="rgba(60,60,250,0.44)"/>
<rect x="554.63" y="340.16" width="4" height="4" fill="rgba(60,60,250,0.44)"/>
<rect x="554.87" y="341.79" width="4" height="4" fill="rgba(60,60,250,0.44)"/>
<rect x="554.46" y="345.06" width="4" height="4" fill="rgba(60,60,250,0.44)"/>
<rect x="554.35" y="347.26" width="4" height="4" fill="rgba(60,60,250,0.44)"/>
<rect x="555.06" y="349.38" width="4" height="4" fill="rgba(60,60,250,0.44)"/>
<rect x="558.14" y="340.05" width="4" height="4" fill="rgba(60,60,250,0.44)"/>
<rect x="557.94" y="342.3" width="4" height="4" fill="rgba(60,60,250,0.44)"/>
<rect x="557" y="344.73" width="4" height="4" fill="rgba(60,60,250,0.44)"/>
<rect x="558.14" y="347.76" width="4" height="4" fill="rgba(60,60,250,0.44)"/>
<rect x="560.55" y="338.9" width="4" height="4" fill="rgba(60,60,250,0.44)"/>
<rect x="560.09" y="342.26" width="4" height="4" fill="rgba(60,60,250,0.44)"/>
<rect x="560.18" y="345.15" width="4" height="4" fill="rgba(60,60,250,0.44)"/>
<rect x="559.9" y="346.72" width="4" height="4" fill="rgba(60,60,250,0.44)"/>
<rect x="560.66" y="349.43" width="4" height="4" fill="rgba(60,60,250,0.44)"/>
<rect x="562.16" y="345.27" width="4" height="4" fill="rgba(60,60,250,0.44)"/>
<rect x="562.38" y="346.85" width="4" height="4" fill="rgba(60,60,250,0.44)"/>
<rect x="564.7" y="339.57" width="4" height="4" fill="rgba(60,60,250,0.44)"/>
<rect x="565.17" y="342.02" width="4" height="4" fill="rgba(60,60,250,0.44)"/>
<rect x="565.39" y="345.06" width="4" height="4" fill="rgba(60,60,250,0.44)"/>
<rect x="565.05" y="346.78" width="4" height="4" fill="rgba(60,60,250,0.44)"/>
<rect x="567.17" y="341.62" width="4" height="4" fill="rgba(60,60,250,0.44)"/>
<rect x="567.65" y="347.06" width="4" height="4" fill="rgba(60,60,250,0.44)"/>
<rect x="570.36" y="344.32" width="4" height="4" fill="rgba(60,60,250,0.44)"/>
<rect x="569.77" y="346.82" width="4" height="4" fill="rgba(60,60,250,0.44)"/>
<rect x="569.95" y="349.41" width="4" height="4" fill="rgba(60,60,250,0.44)"/>
<rect x="571.85" y="341.75" width="4" height="4" fill="rgba(60,60,250,0.44)"/>
<rect x="573.08" y="345.14" width="4" height="4" fill="rgba(60,60,250,0.44)"/>
<rect x="571.82" y="347.49" width="4" height="4" fill="rgba(60,60,250,0.44)"/>
<rect x="572.61" y="349.89" width="4" height="4" fill="rgba(60,60,250,0.44)"/>
<rect x="575.58" y="344.44" width="4" height="4" fill="rgba(60,60,250,0.44)"/>
<rect x="575.49" y="346.68" width="4" height="4" fill="rgba(60,60,250,0.44)"/>
<rect x="577.96" y="341.49" width="4" height="4" fill="rgba(60,60,250,0.44)"/>
<rect x="626.5" y="344.6" width="4.2" height="4.2" fill="rgba(60,60,250,0.44)"/>
<circle cx="544" cy="295.8" r="2.35" fill="rgba(240,40,40,0.62)"/>
<circle cx="528" cy="301.1" r="2.35" fill="rgba(240,40,40,0.62)"/>
<circle cx="532.4" cy="301.1" r="2.35" fill="rgba(240,40,40,0.62)"/>
<circle cx="537.3" cy="301.1" r="2.35" fill="rgba(240,40,40,0.62)"/>
<circle cx="541.7" cy="301.1" r="2.35" fill="rgba(240,40,40,0.62)"/>
<circle cx="546.6" cy="301.5" r="2.35" fill="rgba(240,40,40,0.62)"/>
<circle cx="552.4" cy="301.1" r="2.35" fill="rgba(240,40,40,0.62)"/>
<circle cx="524.9" cy="304" r="2.35" fill="rgba(240,40,40,0.62)"/>
<circle cx="532.4" cy="303.8" r="2.35" fill="rgba(240,40,40,0.62)"/>
<circle cx="559" cy="304" r="2.35" fill="rgba(240,40,40,0.62)"/>
<circle cx="530.6" cy="306.9" r="2.35" fill="rgba(240,40,40,0.62)"/>
<circle cx="536.9" cy="306.9" r="2.35" fill="rgba(240,40,40,0.62)"/>
<circle cx="542.2" cy="306.4" r="2.35" fill="rgba(240,40,40,0.62)"/>
<circle cx="549.7" cy="306.4" r="2.35" fill="rgba(240,40,40,0.62)"/>
<circle cx="555.9" cy="306.9" r="2.35" fill="rgba(240,40,40,0.62)"/>
<circle cx="568.4" cy="305.8" r="2.35" fill="rgba(240,40,40,0.62)"/>
<circle cx="524.4" cy="309.5" r="2.35" fill="rgba(240,40,40,0.62)"/>
<circle cx="534.6" cy="309.1" r="2.35" fill="rgba(240,40,40,0.62)"/>
<circle cx="541.7" cy="309.5" r="2.35" fill="rgba(240,40,40,0.62)"/>
<circle cx="547.1" cy="309.7" r="2.35" fill="rgba(240,40,40,0.62)"/>
<circle cx="529.3" cy="312.6" r="2.35" fill="rgba(240,40,40,0.62)"/>
<circle cx="534.6" cy="312.6" r="2.35" fill="rgba(240,40,40,0.62)"/>
<circle cx="550.6" cy="312.6" r="2.35" fill="rgba(240,40,40,0.62)"/>
<circle cx="544.8" cy="314.8" r="2.35" fill="rgba(240,40,40,0.62)"/>
<circle cx="616.1" cy="305.7" r="2.35" fill="rgba(240,40,40,0.62)"/>
<circle cx="634.8" cy="305.7" r="2.35" fill="rgba(240,40,40,0.62)"/>
<circle cx="530.6" cy="362.7" r="2.35" fill="rgba(240,40,40,0.62)"/>
<circle cx="547.1" cy="363.1" r="2.35" fill="rgba(240,40,40,0.62)"/>
<circle cx="526.2" cy="365.3" r="2.35" fill="rgba(240,40,40,0.62)"/>
<circle cx="532.4" cy="365.8" r="2.35" fill="rgba(240,40,40,0.62)"/>
<circle cx="542.6" cy="365.8" r="2.35" fill="rgba(240,40,40,0.62)"/>
<circle cx="521.8" cy="368.4" r="2.35" fill="rgba(240,40,40,0.62)"/>
<circle cx="526.6" cy="368.9" r="2.35" fill="rgba(240,40,40,0.62)"/>
<circle cx="548" cy="368.9" r="2.35" fill="rgba(240,40,40,0.62)"/>
<circle cx="540" cy="369.3" r="2.35" fill="rgba(240,40,40,0.62)"/>
<circle cx="532.9" cy="371.1" r="2.35" fill="rgba(240,40,40,0.62)"/>
<circle cx="544.4" cy="371.1" r="2.35" fill="rgba(240,40,40,0.62)"/>
<circle cx="525.8" cy="373.3" r="2.35" fill="rgba(240,40,40,0.62)"/>
<circle cx="537.3" cy="373.7" r="2.35" fill="rgba(240,40,40,0.62)"/>
<circle cx="558.1" cy="372.9" r="2.35" fill="rgba(240,40,40,0.62)"/>
<circle cx="530.2" cy="374.2" r="2.35" fill="rgba(240,40,40,0.62)"/>
<circle cx="543.5" cy="374.6" r="2.35" fill="rgba(240,40,40,0.62)"/>
<circle cx="529.3" cy="376.9" r="2.35" fill="rgba(240,40,40,0.62)"/>
<circle cx="537.7" cy="376.4" r="2.35" fill="rgba(240,40,40,0.62)"/>
<circle cx="548.8" cy="376.9" r="2.35" fill="rgba(240,40,40,0.62)"/>
<circle cx="523.5" cy="379.5" r="2.35" fill="rgba(240,40,40,0.62)"/>
<circle cx="530.6" cy="379.5" r="2.35" fill="rgba(240,40,40,0.62)"/>
<circle cx="541.7" cy="379.5" r="2.35" fill="rgba(240,40,40,0.62)"/>
<circle cx="529.3" cy="382.2" r="2.35" fill="rgba(240,40,40,0.62)"/>
<circle cx="545.7" cy="382.2" r="2.35" fill="rgba(240,40,40,0.62)"/>
<circle cx="589.9" cy="372.3" r="2.35" fill="rgba(240,40,40,0.62)"/>
<circle cx="610.3" cy="372.3" r="2.35" fill="rgba(240,40,40,0.62)"/>
<line x1="554.5" y1="268" x2="554.5" y2="291.3" stroke="#1e1e50" stroke-width="1"/>
<line x1="543.6" y1="294" x2="543.6" y2="317.5" stroke="#5a1010" stroke-width="1"/>
<line x1="542.3" y1="335.3" x2="542.3" y2="358.4" stroke="#2a2a3a" stroke-width="1"/>
<line x1="538.7" y1="360.9" x2="538.7" y2="384.8" stroke="#2a2a2a" stroke-width="1"/>
<path d="M619,279.5 V279.5 H655.4 V305.7" stroke="#333" stroke-width="0.9" fill="none"/>
<line x1="638.8" y1="305.7" x2="655.4" y2="305.7" stroke="#333" stroke-width="0.9"/>
<polygon points="661.4,290.22 662.03,291.6 663.55,291.46 662.66,292.7 663.55,293.94 662.03,293.8 661.4,295.18 660.77,293.8 659.25,293.94 660.13,292.7 659.25,291.46 660.77,291.6" fill="#111" stroke="#111" stroke-width="0.42" stroke-linejoin="round"/>
<path d="M634,346.6 V346.6 H655.3 V372.3" stroke="#333" stroke-width="0.9" fill="none"/>
<line x1="615.7" y1="372.3" x2="655.3" y2="372.3" stroke="#333" stroke-width="0.9"/>
<text x="661.5" y="361.9" font-size="8.3" font-weight="bold" font-style="normal" text-anchor="middle" fill="#111" stroke="#111" stroke-width="0.15" textLength="8.8" lengthAdjust="spacingAndGlyphs" transform="rotate(90 661.5 359.7)">ns</text>
<circle cx="467.5" cy="435" r="2.5" fill="rgba(240,40,40,0.62)"/>
<rect x="565" y="432.6" width="5.1" height="5" fill="rgba(120,120,235,0.55)"/>
<text x="476.3" y="437.6" font-size="8.5" font-weight="bold" font-style="normal" text-anchor="start" fill="#111" stroke="#111" stroke-width="0.15" textLength="22.4" lengthAdjust="spacingAndGlyphs" >BRAF</text>
<text x="498.7" y="439.6" font-size="5.5" font-weight="bold" font-style="normal" text-anchor="start" fill="#111" stroke="#111" stroke-width="0.15" textLength="19" lengthAdjust="spacingAndGlyphs" >V600E</text>
<text x="520.2" y="437.6" font-size="8.5" font-weight="bold" font-style="normal" text-anchor="start" fill="#111" stroke="#111" stroke-width="0.15" textLength="35" lengthAdjust="spacingAndGlyphs" >mutation</text>
<text x="576.6" y="437.6" font-size="8.5" font-weight="bold" font-style="normal" text-anchor="start" fill="#111" stroke="#111" stroke-width="0.15" textLength="22.4" lengthAdjust="spacingAndGlyphs" >BRAF</text>
<text x="599" y="439.6" font-size="5.5" font-weight="bold" font-style="normal" text-anchor="start" fill="#111" stroke="#111" stroke-width="0.15" textLength="19" lengthAdjust="spacingAndGlyphs" >V600E</text>
<text x="620.5" y="437.6" font-size="8.5" font-weight="bold" font-style="normal" text-anchor="start" fill="#111" stroke="#111" stroke-width="0.15" textLength="36.3" lengthAdjust="spacingAndGlyphs" >wild type</text>
</svg>
</body></html>
